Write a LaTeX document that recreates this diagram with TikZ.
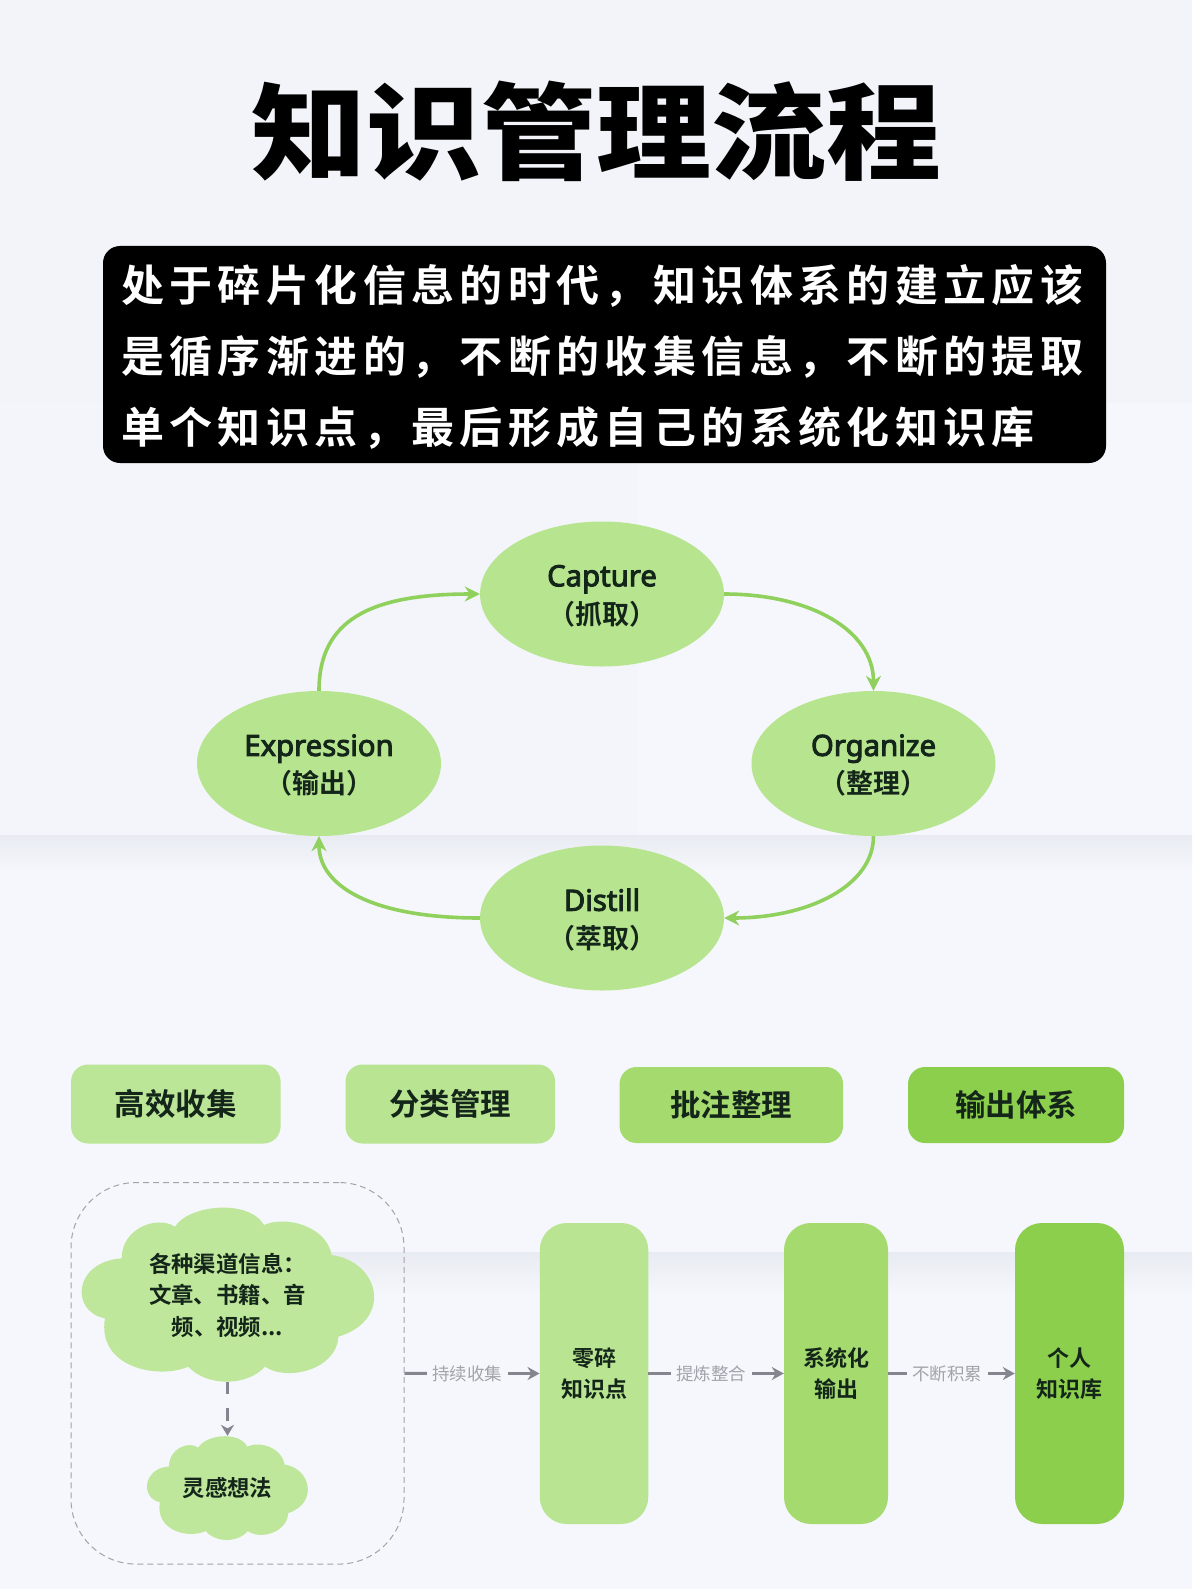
\documentclass[tikz,border=0pt]{standalone}
\usepackage{fontspec}
\usetikzlibrary{arrows.meta,shapes.geometric}
\setmainfont{Noto Sans CJK SC}
\newfontfamily\cjkbold{Noto Sans CJK SC Bold}
\newfontfamily\cjkblack{Noto Sans CJK SC Black}
\newfontfamily\cjkreg{Noto Sans CJK SC}
\newfontfamily\cjkspaced[LetterSpace=12.5]{Noto Sans CJK SC Bold}
\newfontfamily\latinfam[FakeBold=3.2]{Noto Sans}
\newcommand{\lat}[1]{{\latinfam\fontsize{29.3}{38}\selectfont #1}}
\definecolor{paper}{HTML}{F5F7FC}
\definecolor{papertop}{HTML}{F2F4F9}
\definecolor{paperleft}{HTML}{F3F5FA}
\definecolor{fold}{HTML}{E8EBF1}
\definecolor{ink}{HTML}{14261A}
\definecolor{gell}{HTML}{B7E48F}
\definecolor{gcloud}{HTML}{BEE79B}
\definecolor{g1}{HTML}{BBE597}
\definecolor{g2}{HTML}{B9E593}
\definecolor{g3}{HTML}{A4DA6E}
\definecolor{g4}{HTML}{8CCF4C}
\definecolor{arrowg}{HTML}{8FD15C}
\definecolor{grey1}{HTML}{85858F}
\definecolor{grey2}{HTML}{A3A3AB}
\newcommand{\cloudoutline}{%
  \fill[gcloud] (345,110) .. controls (385,45) and (565,25) .. (612,105)
    .. controls (680,75) and (800,110) .. (815,195)
    .. controls (960,215) and (1000,390) .. (835,440)
    .. controls (830,540) and (680,575) .. (615,530)
    .. controls (560,590) and (440,590) .. (385,530)
    .. controls (290,570) and (110,530) .. (135,385)
    .. controls (30,365) and (40,215) .. (185,205)
    .. controls (185,115) and (290,75) .. (345,110) -- cycle;}
\tikzset{
 x=1pt,y=-1pt,
 ellbase/.style={ellipse,fill=gell,minimum width=244pt,minimum height=145pt,inner sep=0pt},
 elltext/.style={inner sep=0pt,align=center,text=ink,font=\cjkbold\fontsize{27}{38}\selectfont},
 flow/.style={-{Stealth[length=15pt,width=15pt]},draw=arrowg,line width=3.6pt},
 headbox/.style={rectangle,rounded corners=17pt,inner sep=0pt,text=ink,font=\cjkbold\fontsize{30.5}{30.5}\selectfont},
 tallbox/.style={rectangle,rounded corners=27pt,inner sep=0pt,minimum height=301pt,align=center,text=ink,font=\cjkbold\fontsize{22}{30.5}\selectfont},
 seg/.style={draw=grey1,line width=3pt},
 segarrow/.style={-{Stealth[length=12pt,width=13pt]},draw=grey1,line width=3pt},
 edgelabel/.style={inner sep=0pt,text=grey2,font=\cjkreg\fontsize{17.5}{20}\selectfont},
 cloudtext/.style={inner sep=0pt,align=center,text=ink,font=\cjkbold\fontsize{22.4}{31.5}\selectfont},
}
\begin{document}
\begin{tikzpicture}
\useasboundingbox (0,0) rectangle (1192,1589);
% paper with its folds
\fill[paper] (0,0) rectangle (1192,1589);
\fill[papertop] (0,0) rectangle (1192,403);
\fill[paperleft] (0,403) rectangle (638,835);
\shade[top color=fold,bottom color=paper] (0,835) rectangle (1192,872);
\shade[top color=fold,bottom color=paper] (300,1252) rectangle (1192,1295);
% title and banner
\node (title) at (596,131.5) [inner sep=0pt,text=black,font=\cjkblack\fontsize{115}{115}\selectfont] {\scalebox{1}[.91]{知识管理流程}};
\fill[black,rounded corners=17pt] (103,246) rectangle (1106,463);
\node (intro) at (121,357) [anchor=west,inner sep=0pt,align=left,text=white,font=\cjkspaced\fontsize{43}{71}\selectfont] {处于碎片化信息的时代，知识体系的建立应该\\是循序渐进的，不断的收集信息，不断的提取\\单个知识点，最后形成自己的系统化知识库};
% cycle
\node (capture) at (602,594) [ellbase,label={[elltext,yshift=-2pt]center:\lat{Capture}\\（抓取）}] {};
\node (organize) at (873.5,763.5) [ellbase,label={[elltext,yshift=-2pt]center:\lat{Organize}\\（整理）}] {};
\node (distill) at (602,918) [ellbase,label={[elltext,yshift=-2pt]center:\lat{Distill}\\（萃取）}] {};
\node (expression) at (319,763.5) [ellbase,label={[elltext,yshift=-2pt]center:\lat{Expression}\\（输出）}] {};
\draw[flow] (expression.north) .. controls (319,620) and (370,594) .. (capture.west);
\draw[flow] (capture.east) .. controls (810,594) and (873.5,630) .. (organize.north);
\draw[flow] (organize.south) .. controls (873.5,885) and (810,918) .. (distill.east);
\draw[flow] (distill.west) .. controls (370,918) and (319,885) .. (expression.south);
% headings
\node (h1) [headbox,fill=g1,minimum width=209.5pt,minimum height=79pt] at (175.8,1104) {\raisebox{-1pt}{高效收集}};
\node (h2) [headbox,fill=g2,minimum width=209.5pt,minimum height=79pt] at (450.3,1104) {\raisebox{-1pt}{分类管理}};
\node (h3) [headbox,fill=g3,minimum width=223.5pt,minimum height=76pt] at (731.3,1105) {\raisebox{-1pt}{批注整理}};
\node (h4) [headbox,fill=g4,minimum width=216pt,minimum height=76pt] at (1016,1105) {\raisebox{-1pt}{输出体系}};
% sources group
\node (group) at (237.5,1373.3) [draw=grey2,line width=1pt,dash pattern=on 6pt off 4pt,rounded corners=65pt,minimum width=333pt,minimum height=381.5pt,inner sep=0pt] {};
\begin{scope}[shift={(227.5,1294)},xscale=.33333,yscale=.33333,shift={(-502.5,-312)}]\cloudoutline\end{scope}
\begin{scope}[shift={(227.2,1487.7)},xscale=.18333,yscale=.19867,shift={(-502.5,-312)}]\cloudoutline\end{scope}
\node (sources) at (227.5,1295) [cloudtext,minimum width=294pt,minimum height=173pt] {各种渠道信息：\\文章、书籍、音\\频、视频...};
\node (ideas) at (227.5,1488) [cloudtext,minimum width=163pt,minimum height=104pt] {灵感想法};
\draw[-{Stealth[length=11pt,width=13pt]},draw=grey1,line width=3.2pt,dash pattern=on 12.5pt off 14pt] (sources.south) -- (ideas.north);
% pipeline
\node (t1) at (594,1373.5) [tallbox,fill=g2,minimum width=108.5pt] {零碎\\知识点};
\node (t2) at (836,1373.5) [tallbox,fill=g3,minimum width=104pt] {系统化\\输出};
\node (t3) at (1069.5,1373.5) [tallbox,fill=g4,minimum width=109pt] {个人\\知识库};
\node (l1) at (467,1373.5) [edgelabel] {持续收集};
\node (l2) at (711,1373.5) [edgelabel] {提炼整合};
\node (l3) at (947,1373.5) [edgelabel] {不断积累};
\draw[seg,shorten >=5pt] (group.east) -- (l1.west);
\draw[segarrow,shorten <=6pt] (l1.east) -- (t1.west);
\draw[seg,shorten >=5pt] (t1.east) -- (l2.west);
\draw[segarrow,shorten <=6pt] (l2.east) -- (t2.west);
\draw[seg,shorten >=5pt] (t2.east) -- (l3.west);
\draw[segarrow,shorten <=6pt] (l3.east) -- (t3.west);
\end{tikzpicture}
\end{document}
